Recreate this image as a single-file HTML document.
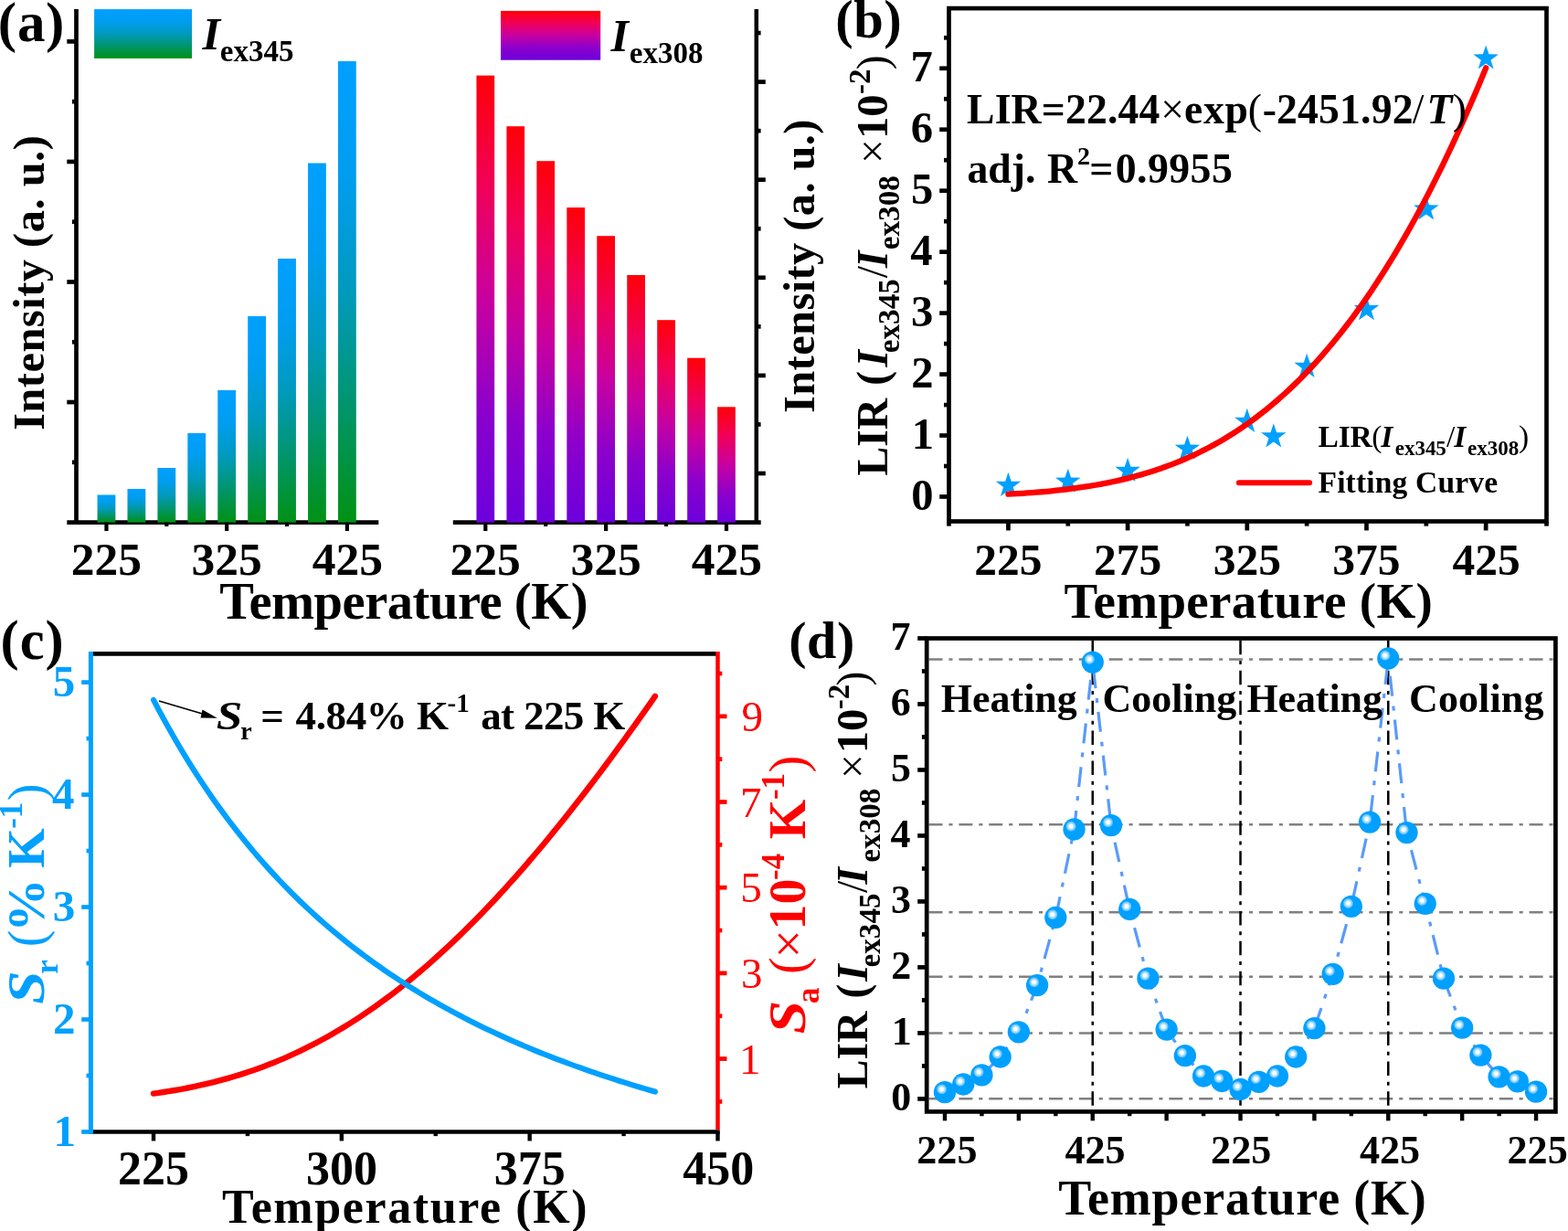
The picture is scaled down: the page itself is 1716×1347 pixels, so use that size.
<!DOCTYPE html>
<html><head><meta charset="utf-8"><title>Figure</title>
<style>html,body{margin:0;padding:0;background:#fff;overflow:hidden;width:1716px;height:1347px;}svg{display:block;}</style>
</head><body>
<svg width="1716" height="1347" viewBox="0 0 1716 1347" font-family='"Liberation Serif", serif'>
<defs><linearGradient id="gBG" x1="0" y1="0" x2="0" y2="1"><stop offset="0" stop-color="#00a0ff"/><stop offset="0.25" stop-color="#009df0"/><stop offset="0.5" stop-color="#009abd"/><stop offset="0.75" stop-color="#00956b"/><stop offset="1" stop-color="#009114"/></linearGradient><linearGradient id="gRP" x1="0" y1="0" x2="0" y2="1"><stop offset="0" stop-color="#ff0008"/><stop offset="0.25" stop-color="#f00058"/><stop offset="0.5" stop-color="#c800a0"/><stop offset="0.75" stop-color="#8c00cc"/><stop offset="1" stop-color="#6c00dc"/></linearGradient><radialGradient id="gHL" cx="0.5" cy="0.5" r="0.5"><stop offset="0" stop-color="#ffffff"/><stop offset="0.28" stop-color="#ffffff"/><stop offset="0.45" stop-color="#c8ecff"/><stop offset="0.62" stop-color="#9bd8ff"/><stop offset="0.8" stop-color="#6cc6ff"/><stop offset="1" stop-color="#00a0ff"/></radialGradient></defs>
<rect width="1716" height="1347" fill="#fff"/>
<line x1="83.50" y1="10.10" x2="83.50" y2="573.95" stroke="#000" stroke-width="4.7"/>
<line x1="73.30" y1="571.60" x2="414.30" y2="571.60" stroke="#000" stroke-width="4.7"/>
<line x1="73.30" y1="440.05" x2="83.50" y2="440.05" stroke="#000" stroke-width="4.7"/>
<line x1="73.30" y1="308.50" x2="83.50" y2="308.50" stroke="#000" stroke-width="4.7"/>
<line x1="73.30" y1="176.95" x2="83.50" y2="176.95" stroke="#000" stroke-width="4.7"/>
<line x1="73.30" y1="45.40" x2="83.50" y2="45.40" stroke="#000" stroke-width="4.7"/>
<line x1="78.90" y1="505.83" x2="83.50" y2="505.83" stroke="#000" stroke-width="4.7"/>
<line x1="78.90" y1="374.27" x2="83.50" y2="374.27" stroke="#000" stroke-width="4.7"/>
<line x1="78.90" y1="242.73" x2="83.50" y2="242.73" stroke="#000" stroke-width="4.7"/>
<line x1="78.90" y1="111.17" x2="83.50" y2="111.17" stroke="#000" stroke-width="4.7"/>
<rect x="106.55" y="541.50" width="19.80" height="30.10" fill="url(#gBG)"/>
<rect x="139.48" y="535.00" width="19.80" height="36.60" fill="url(#gBG)"/>
<rect x="172.41" y="512.00" width="19.80" height="59.60" fill="url(#gBG)"/>
<rect x="205.34" y="474.00" width="19.80" height="97.60" fill="url(#gBG)"/>
<rect x="238.27" y="427.00" width="19.80" height="144.60" fill="url(#gBG)"/>
<rect x="271.20" y="346.00" width="19.80" height="225.60" fill="url(#gBG)"/>
<rect x="304.13" y="283.00" width="19.80" height="288.60" fill="url(#gBG)"/>
<rect x="337.06" y="178.50" width="19.80" height="393.10" fill="url(#gBG)"/>
<rect x="369.99" y="67.00" width="19.80" height="504.60" fill="url(#gBG)"/>
<line x1="116.45" y1="571.60" x2="116.45" y2="581.00" stroke="#000" stroke-width="4.2"/>
<line x1="182.31" y1="571.60" x2="182.31" y2="576.00" stroke="#000" stroke-width="4.2"/>
<line x1="248.17" y1="571.60" x2="248.17" y2="581.00" stroke="#000" stroke-width="4.2"/>
<line x1="314.03" y1="571.60" x2="314.03" y2="576.00" stroke="#000" stroke-width="4.2"/>
<line x1="379.89" y1="571.60" x2="379.89" y2="581.00" stroke="#000" stroke-width="4.2"/>
<text x="77.70" y="628.70" font-size="51.50" font-weight="bold">225</text>
<text x="209.55" y="628.70" font-size="51.50" font-weight="bold">325</text>
<text x="341.78" y="628.70" font-size="51.50" font-weight="bold">425</text>
<rect x="103.10" y="10.10" width="106.90" height="53.80" fill="url(#gBG)"/>
<text x="221.40" y="53.60" font-size="50.00" font-weight="bold" font-style="italic">I</text>
<text x="240.75" y="67.10" font-size="33.00" font-weight="bold">ex345</text>
<line x1="827.80" y1="10.10" x2="827.80" y2="573.95" stroke="#000" stroke-width="4.5"/>
<line x1="495.80" y1="571.60" x2="832.70" y2="571.60" stroke="#000" stroke-width="4.7"/>
<line x1="827.80" y1="518.00" x2="837.80" y2="518.00" stroke="#000" stroke-width="4.7"/>
<line x1="827.80" y1="464.45" x2="832.60" y2="464.45" stroke="#000" stroke-width="4.7"/>
<line x1="827.80" y1="410.90" x2="837.80" y2="410.90" stroke="#000" stroke-width="4.7"/>
<line x1="827.80" y1="357.35" x2="832.60" y2="357.35" stroke="#000" stroke-width="4.7"/>
<line x1="827.80" y1="303.80" x2="837.80" y2="303.80" stroke="#000" stroke-width="4.7"/>
<line x1="827.80" y1="250.25" x2="832.60" y2="250.25" stroke="#000" stroke-width="4.7"/>
<line x1="827.80" y1="196.70" x2="837.80" y2="196.70" stroke="#000" stroke-width="4.7"/>
<line x1="827.80" y1="143.15" x2="832.60" y2="143.15" stroke="#000" stroke-width="4.7"/>
<line x1="827.80" y1="89.60" x2="837.80" y2="89.60" stroke="#000" stroke-width="4.7"/>
<line x1="827.80" y1="36.05" x2="832.60" y2="36.05" stroke="#000" stroke-width="4.7"/>
<rect x="521.45" y="82.60" width="19.70" height="489.00" fill="url(#gRP)"/>
<rect x="554.41" y="138.20" width="19.70" height="433.40" fill="url(#gRP)"/>
<rect x="587.37" y="176.20" width="19.70" height="395.40" fill="url(#gRP)"/>
<rect x="620.33" y="227.10" width="19.70" height="344.50" fill="url(#gRP)"/>
<rect x="653.29" y="258.20" width="19.70" height="313.40" fill="url(#gRP)"/>
<rect x="686.25" y="301.00" width="19.70" height="270.60" fill="url(#gRP)"/>
<rect x="719.21" y="350.20" width="19.70" height="221.40" fill="url(#gRP)"/>
<rect x="752.17" y="391.70" width="19.70" height="179.90" fill="url(#gRP)"/>
<rect x="785.13" y="445.30" width="19.70" height="126.30" fill="url(#gRP)"/>
<line x1="531.30" y1="571.60" x2="531.30" y2="581.00" stroke="#000" stroke-width="4.2"/>
<line x1="597.22" y1="571.60" x2="597.22" y2="576.00" stroke="#000" stroke-width="4.2"/>
<line x1="663.14" y1="571.60" x2="663.14" y2="581.00" stroke="#000" stroke-width="4.2"/>
<line x1="729.06" y1="571.60" x2="729.06" y2="576.00" stroke="#000" stroke-width="4.2"/>
<line x1="794.98" y1="571.60" x2="794.98" y2="581.00" stroke="#000" stroke-width="4.2"/>
<text x="492.55" y="628.70" font-size="51.50" font-weight="bold">225</text>
<text x="624.51" y="628.70" font-size="51.50" font-weight="bold">325</text>
<text x="756.87" y="628.70" font-size="51.50" font-weight="bold">425</text>
<rect x="548.00" y="11.90" width="109.20" height="53.80" fill="url(#gRP)"/>
<text x="668.50" y="55.90" font-size="50.00" font-weight="bold" font-style="italic">I</text>
<text x="688.75" y="68.50" font-size="33.00" font-weight="bold">ex308</text>
<text x="240.35" y="676.90" font-size="56.50" font-weight="bold" textLength="403.11" lengthAdjust="spacing">Temperature (K)</text>
<text x="-2.15" y="45.20" font-size="61.00" font-weight="bold" textLength="72.55" lengthAdjust="spacing">(a)</text>
<g transform="translate(48.2,469.3) rotate(-90)">
<text x="-1.70" y="0.00" font-size="48.50" font-weight="bold" textLength="322.87" lengthAdjust="spacing">Intensity (a. u.)</text>
</g>
<g transform="translate(890.7,450.3) rotate(-90)">
<text x="-1.70" y="0.00" font-size="48.50" font-weight="bold" textLength="321.47" lengthAdjust="spacing">Intensity (a. u.)</text>
</g>
<rect x="1038.5" y="9.1" width="654.0" height="561.4" fill="none" stroke="#000" stroke-width="4.7"/>
<line x1="1028.20" y1="543.50" x2="1038.50" y2="543.50" stroke="#000" stroke-width="4.7"/>
<line x1="1033.00" y1="510.02" x2="1038.50" y2="510.02" stroke="#000" stroke-width="4.7"/>
<text x="997.34" y="558.00" font-size="48.60" font-weight="bold">0</text>
<line x1="1028.20" y1="476.54" x2="1038.50" y2="476.54" stroke="#000" stroke-width="4.7"/>
<line x1="1033.00" y1="443.06" x2="1038.50" y2="443.06" stroke="#000" stroke-width="4.7"/>
<text x="997.83" y="491.04" font-size="48.60" font-weight="bold">1</text>
<line x1="1028.20" y1="409.58" x2="1038.50" y2="409.58" stroke="#000" stroke-width="4.7"/>
<line x1="1033.00" y1="376.10" x2="1038.50" y2="376.10" stroke="#000" stroke-width="4.7"/>
<text x="997.34" y="424.08" font-size="48.60" font-weight="bold">2</text>
<line x1="1028.20" y1="342.62" x2="1038.50" y2="342.62" stroke="#000" stroke-width="4.7"/>
<line x1="1033.00" y1="309.14" x2="1038.50" y2="309.14" stroke="#000" stroke-width="4.7"/>
<text x="997.10" y="357.12" font-size="48.60" font-weight="bold">3</text>
<line x1="1028.20" y1="275.66" x2="1038.50" y2="275.66" stroke="#000" stroke-width="4.7"/>
<line x1="1033.00" y1="242.18" x2="1038.50" y2="242.18" stroke="#000" stroke-width="4.7"/>
<text x="996.37" y="290.16" font-size="48.60" font-weight="bold">4</text>
<line x1="1028.20" y1="208.70" x2="1038.50" y2="208.70" stroke="#000" stroke-width="4.7"/>
<line x1="1033.00" y1="175.22" x2="1038.50" y2="175.22" stroke="#000" stroke-width="4.7"/>
<text x="997.10" y="223.20" font-size="48.60" font-weight="bold">5</text>
<line x1="1028.20" y1="141.74" x2="1038.50" y2="141.74" stroke="#000" stroke-width="4.7"/>
<line x1="1033.00" y1="108.26" x2="1038.50" y2="108.26" stroke="#000" stroke-width="4.7"/>
<text x="996.86" y="156.24" font-size="48.60" font-weight="bold">6</text>
<line x1="1028.20" y1="74.78" x2="1038.50" y2="74.78" stroke="#000" stroke-width="4.7"/>
<line x1="1033.00" y1="41.30" x2="1038.50" y2="41.30" stroke="#000" stroke-width="4.7"/>
<text x="996.62" y="89.28" font-size="48.60" font-weight="bold">7</text>
<line x1="1038.50" y1="570.50" x2="1038.50" y2="575.65" stroke="#000" stroke-width="4.7"/>
<line x1="1103.45" y1="570.50" x2="1103.45" y2="580.45" stroke="#000" stroke-width="4.7"/>
<text x="1066.20" y="628.50" font-size="49.50" font-weight="bold">225</text>
<line x1="1168.79" y1="570.50" x2="1168.79" y2="575.65" stroke="#000" stroke-width="4.7"/>
<line x1="1234.12" y1="570.50" x2="1234.12" y2="580.45" stroke="#000" stroke-width="4.7"/>
<text x="1196.88" y="628.50" font-size="49.50" font-weight="bold">275</text>
<line x1="1299.46" y1="570.50" x2="1299.46" y2="575.65" stroke="#000" stroke-width="4.7"/>
<line x1="1364.80" y1="570.50" x2="1364.80" y2="580.45" stroke="#000" stroke-width="4.7"/>
<text x="1327.68" y="628.50" font-size="49.50" font-weight="bold">325</text>
<line x1="1430.14" y1="570.50" x2="1430.14" y2="575.65" stroke="#000" stroke-width="4.7"/>
<line x1="1495.48" y1="570.50" x2="1495.48" y2="580.45" stroke="#000" stroke-width="4.7"/>
<text x="1458.35" y="628.50" font-size="49.50" font-weight="bold">375</text>
<line x1="1560.81" y1="570.50" x2="1560.81" y2="575.65" stroke="#000" stroke-width="4.7"/>
<line x1="1626.15" y1="570.50" x2="1626.15" y2="580.45" stroke="#000" stroke-width="4.7"/>
<text x="1589.52" y="628.50" font-size="49.50" font-weight="bold">425</text>
<line x1="1692.50" y1="570.50" x2="1692.50" y2="575.65" stroke="#000" stroke-width="4.7"/>
<polygon points="1103.45,516.85 1106.76,526.74 1117.19,526.83 1108.81,533.04 1111.94,542.99 1103.45,536.94 1094.96,542.99 1098.09,533.04 1089.71,526.83 1100.14,526.74" fill="#00a0ff"/>
<polygon points="1168.79,512.65 1172.10,522.54 1182.53,522.63 1174.15,528.84 1177.28,538.79 1168.79,532.74 1160.29,538.79 1163.43,528.84 1155.04,522.63 1165.48,522.54" fill="#00a0ff"/>
<polygon points="1234.12,500.75 1237.44,510.64 1247.87,510.73 1239.48,516.94 1242.62,526.89 1234.12,520.84 1225.63,526.89 1228.77,516.94 1220.38,510.73 1230.81,510.64" fill="#00a0ff"/>
<polygon points="1299.46,476.65 1302.77,486.54 1313.21,486.63 1304.82,492.84 1307.96,502.79 1299.46,496.74 1290.97,502.79 1294.10,492.84 1285.72,486.63 1296.15,486.54" fill="#00a0ff"/>
<polygon points="1364.80,446.85 1368.11,456.74 1378.54,456.83 1370.16,463.04 1373.29,472.99 1364.80,466.94 1356.31,472.99 1359.44,463.04 1351.06,456.83 1361.49,456.74" fill="#00a0ff"/>
<polygon points="1430.14,386.85 1433.45,396.74 1443.88,396.83 1435.50,403.04 1438.63,412.99 1430.14,406.94 1421.64,412.99 1424.78,403.04 1416.39,396.83 1426.83,396.74" fill="#00a0ff"/>
<polygon points="1495.48,324.05 1498.79,333.94 1509.22,334.03 1500.83,340.24 1503.97,350.19 1495.48,344.14 1486.98,350.19 1490.12,340.24 1481.73,334.03 1492.16,333.94" fill="#00a0ff"/>
<polygon points="1560.81,214.45 1564.12,224.34 1574.56,224.43 1566.17,230.64 1569.31,240.59 1560.81,234.54 1552.32,240.59 1555.45,230.64 1547.07,224.43 1557.50,224.34" fill="#00a0ff"/>
<polygon points="1626.15,49.45 1629.46,59.34 1639.89,59.43 1631.51,65.64 1634.64,75.59 1626.15,69.54 1617.66,75.59 1620.79,65.64 1612.41,59.43 1622.84,59.34" fill="#00a0ff"/>
<polyline points="1103.45,540.72 1108.68,540.44 1113.90,540.14 1119.13,539.81 1124.36,539.46 1129.59,539.08 1134.81,538.67 1140.04,538.24 1145.27,537.77 1150.49,537.27 1155.72,536.73 1160.95,536.16 1166.17,535.55 1171.40,534.90 1176.63,534.21 1181.86,533.48 1187.08,532.70 1192.31,531.87 1197.54,531.00 1202.76,530.07 1207.99,529.09 1213.22,528.06 1218.44,526.97 1223.67,525.82 1228.90,524.61 1234.12,523.33 1239.35,521.99 1244.58,520.58 1249.81,519.10 1255.03,517.55 1260.26,515.93 1265.49,514.22 1270.71,512.44 1275.94,510.57 1281.17,508.62 1286.39,506.59 1291.62,504.46 1296.85,502.25 1302.08,499.94 1307.30,497.53 1312.53,495.03 1317.76,492.42 1322.98,489.71 1328.21,486.89 1333.44,483.97 1338.66,480.93 1343.89,477.78 1349.12,474.52 1354.35,471.13 1359.57,467.63 1364.80,464.00 1370.03,460.25 1375.25,456.36 1380.48,452.35 1385.71,448.20 1390.93,443.92 1396.16,439.50 1401.39,434.94 1406.62,430.24 1411.84,425.39 1417.07,420.39 1422.30,415.24 1427.52,409.94 1432.75,404.48 1437.98,398.87 1443.20,393.10 1448.43,387.17 1453.66,381.07 1458.89,374.81 1464.11,368.37 1469.34,361.77 1474.57,354.99 1479.79,348.04 1485.02,340.91 1490.25,333.61 1495.48,326.12 1500.70,318.45 1505.93,310.59 1511.16,302.54 1516.38,294.31 1521.61,285.88 1526.84,277.26 1532.06,268.44 1537.29,259.43 1542.52,250.22 1547.75,240.81 1552.97,231.19 1558.20,221.37 1563.43,211.35 1568.65,201.11 1573.88,190.67 1579.11,180.02 1584.33,169.15 1589.56,158.07 1594.79,146.77 1600.02,135.25 1605.24,123.52 1610.47,111.57 1615.70,99.39 1620.92,86.99 1626.15,74.37" fill="none" stroke="#ff0000" stroke-width="6.3" stroke-linecap="round" stroke-linejoin="round"/>
<polygon points="1393.80,463.35 1397.11,473.24 1407.54,473.33 1399.16,479.54 1402.29,489.49 1393.80,483.44 1385.31,489.49 1388.44,479.54 1380.06,473.33 1390.49,473.24" fill="#00a0ff"/>
<line x1="1355.90" y1="528.30" x2="1433.10" y2="528.30" stroke="#ff0000" stroke-width="6" stroke-linecap="round"/>
<text x="1442.50" y="539.20" font-size="33.50" font-weight="bold" textLength="196.53" lengthAdjust="spacing">Fitting Curve</text>
<text x="1442.50" y="489.20" font-size="33.50" font-weight="bold" textLength="59.28" lengthAdjust="spacing">LIR</text>
<text x="1501.19" y="489.20" font-size="33.50">(</text>
<text x="1511.13" y="489.20" font-size="33.50" font-weight="bold" font-style="italic">I</text>
<text x="1526.69" y="498.00" font-size="23.00" font-weight="bold" textLength="56.18" lengthAdjust="spacing">ex345</text>
<text x="1582.90" y="489.20" font-size="33.50">/</text>
<text x="1591.24" y="489.20" font-size="33.50" font-weight="bold" font-style="italic">I</text>
<text x="1606.10" y="498.00" font-size="23.00" font-weight="bold" textLength="56.18" lengthAdjust="spacing">ex308</text>
<text x="1661.99" y="489.20" font-size="33.50">)</text>
<text x="1058.01" y="134.60" font-size="45.70" font-weight="bold" textLength="211.32" lengthAdjust="spacing">LIR=22.44</text>
<text x="1270.14" y="134.60" font-size="45.70">×</text>
<text x="1296.10" y="134.60" font-size="45.70" font-weight="bold" textLength="69.73" lengthAdjust="spacing">exp</text>
<text x="1365.84" y="134.60" font-size="45.70">(</text>
<text x="1381.70" y="134.60" font-size="45.70" font-weight="bold" textLength="164.84" lengthAdjust="spacing">-2451.92</text>
<text x="1545.80" y="134.60" font-size="45.70">/</text>
<text x="1561.57" y="134.60" font-size="45.70" font-weight="bold" font-style="italic" textLength="26.87" lengthAdjust="spacing">T</text>
<text x="1589.63" y="134.60" font-size="45.70">)</text>
<text x="1058.53" y="200.20" font-size="45.80" font-weight="bold" textLength="74.80" lengthAdjust="spacing">adj.</text>
<text x="1146.01" y="200.20" font-size="45.80" font-weight="bold">R</text>
<text x="1178.98" y="180.30" font-size="28.00" font-weight="bold">2</text>
<text x="1192.21" y="200.20" font-size="45.80" font-weight="bold" textLength="30.10" lengthAdjust="spacing">=</text>
<text x="1220.67" y="200.20" font-size="45.80" font-weight="bold" textLength="128.14" lengthAdjust="spacing">0.9955</text>
<text x="914.27" y="40.80" font-size="58.50" font-weight="bold" textLength="72.51" lengthAdjust="spacing">(b)</text>
<text x="1164.58" y="675.90" font-size="55.00" font-weight="bold" textLength="403.23" lengthAdjust="spacing">Temperature (K)</text>
<g transform="translate(971,519.8) rotate(-90)">
<text x="-0.71" y="0.00" font-size="47.50" font-weight="bold">LIR</text>
<text x="97.96" y="0.00" font-size="47.50" font-weight="bold">(</text>
<text x="118.27" y="0.00" font-size="47.50" font-weight="bold" font-style="italic">I</text>
<text x="133.54" y="13.40" font-size="33.20" font-weight="bold">ex345</text>
<text x="215.60" y="0.00" font-size="47.50">/</text>
<text x="226.78" y="0.00" font-size="47.50" font-weight="bold" font-style="italic">I</text>
<text x="246.54" y="13.40" font-size="33.20" font-weight="bold">ex308</text>
<text x="340.90" y="0.00" font-size="47.50">×</text>
<text x="367.92" y="0.00" font-size="48.50" font-weight="bold">10</text>
<text x="416.75" y="-19.50" font-size="33.00" font-weight="bold">-2</text>
<text x="443.57" y="0.00" font-size="47.50">)</text>
</g>
<line x1="99.40" y1="715.30" x2="785.50" y2="715.30" stroke="#000" stroke-width="4.7"/>
<line x1="96.90" y1="1238.50" x2="787.70" y2="1238.50" stroke="#000" stroke-width="4.7"/>
<line x1="99.40" y1="713.00" x2="99.40" y2="1240.80" stroke="#00a0ff" stroke-width="5"/>
<line x1="785.50" y1="713.00" x2="785.50" y2="1236.20" stroke="#ff0000" stroke-width="4.5"/>
<line x1="89.20" y1="1238.50" x2="99.40" y2="1238.50" stroke="#00a0ff" stroke-width="4.7"/>
<text x="58.55" y="1254.00" font-size="49.00" font-weight="bold" fill="#00a0ff">1</text>
<line x1="89.20" y1="1115.52" x2="99.40" y2="1115.52" stroke="#00a0ff" stroke-width="4.7"/>
<text x="58.06" y="1131.02" font-size="49.00" font-weight="bold" fill="#00a0ff">2</text>
<line x1="89.20" y1="992.54" x2="99.40" y2="992.54" stroke="#00a0ff" stroke-width="4.7"/>
<text x="57.81" y="1008.04" font-size="49.00" font-weight="bold" fill="#00a0ff">3</text>
<line x1="89.20" y1="869.56" x2="99.40" y2="869.56" stroke="#00a0ff" stroke-width="4.7"/>
<text x="57.08" y="885.06" font-size="49.00" font-weight="bold" fill="#00a0ff">4</text>
<line x1="89.20" y1="746.58" x2="99.40" y2="746.58" stroke="#00a0ff" stroke-width="4.7"/>
<text x="57.81" y="762.08" font-size="49.00" font-weight="bold" fill="#00a0ff">5</text>
<line x1="94.50" y1="1177.01" x2="99.40" y2="1177.01" stroke="#00a0ff" stroke-width="4.7"/>
<line x1="94.50" y1="1054.03" x2="99.40" y2="1054.03" stroke="#00a0ff" stroke-width="4.7"/>
<line x1="94.50" y1="931.05" x2="99.40" y2="931.05" stroke="#00a0ff" stroke-width="4.7"/>
<line x1="94.50" y1="808.07" x2="99.40" y2="808.07" stroke="#00a0ff" stroke-width="4.7"/>
<line x1="785.50" y1="1205.40" x2="790.30" y2="1205.40" stroke="#ff0000" stroke-width="4.7"/>
<line x1="785.50" y1="1158.56" x2="795.50" y2="1158.56" stroke="#ff0000" stroke-width="4.7"/>
<text x="809.00" y="1174.56" font-size="47.00" fill="#ff0000">1</text>
<line x1="785.50" y1="1111.72" x2="790.30" y2="1111.72" stroke="#ff0000" stroke-width="4.7"/>
<line x1="785.50" y1="1064.88" x2="795.50" y2="1064.88" stroke="#ff0000" stroke-width="4.7"/>
<text x="810.88" y="1080.88" font-size="47.00" fill="#ff0000">3</text>
<line x1="785.50" y1="1018.04" x2="790.30" y2="1018.04" stroke="#ff0000" stroke-width="4.7"/>
<line x1="785.50" y1="971.20" x2="795.50" y2="971.20" stroke="#ff0000" stroke-width="4.7"/>
<text x="810.18" y="987.20" font-size="47.00" fill="#ff0000">5</text>
<line x1="785.50" y1="924.36" x2="790.30" y2="924.36" stroke="#ff0000" stroke-width="4.7"/>
<line x1="785.50" y1="877.52" x2="795.50" y2="877.52" stroke="#ff0000" stroke-width="4.7"/>
<text x="809.95" y="893.52" font-size="47.00" fill="#ff0000">7</text>
<line x1="785.50" y1="830.68" x2="790.30" y2="830.68" stroke="#ff0000" stroke-width="4.7"/>
<line x1="785.50" y1="783.84" x2="795.50" y2="783.84" stroke="#ff0000" stroke-width="4.7"/>
<text x="811.59" y="799.84" font-size="47.00" fill="#ff0000">9</text>
<line x1="785.50" y1="737.00" x2="790.30" y2="737.00" stroke="#ff0000" stroke-width="4.7"/>
<line x1="168.01" y1="1238.50" x2="168.01" y2="1248.45" stroke="#000" stroke-width="4.4"/>
<text x="128.88" y="1296.10" font-size="52.00" font-weight="bold">225</text>
<line x1="270.93" y1="1238.50" x2="270.93" y2="1243.15" stroke="#000" stroke-width="4.4"/>
<line x1="373.84" y1="1238.50" x2="373.84" y2="1248.45" stroke="#000" stroke-width="4.4"/>
<text x="334.97" y="1296.10" font-size="52.00" font-weight="bold">300</text>
<line x1="476.75" y1="1238.50" x2="476.75" y2="1243.15" stroke="#000" stroke-width="4.4"/>
<line x1="579.67" y1="1238.50" x2="579.67" y2="1248.45" stroke="#000" stroke-width="4.4"/>
<text x="540.67" y="1296.10" font-size="52.00" font-weight="bold">375</text>
<line x1="682.58" y1="1238.50" x2="682.58" y2="1243.15" stroke="#000" stroke-width="4.4"/>
<line x1="785.50" y1="1238.50" x2="785.50" y2="1248.45" stroke="#000" stroke-width="4.4"/>
<text x="747.15" y="1296.10" font-size="52.00" font-weight="bold">450</text>
<polyline points="168.01,1196.61 173.50,1195.84 178.99,1195.03 184.48,1194.18 189.97,1193.27 195.45,1192.31 200.94,1191.30 206.43,1190.24 211.92,1189.13 217.41,1187.95 222.90,1186.72 228.39,1185.43 233.88,1184.08 239.36,1182.67 244.85,1181.19 250.34,1179.65 255.83,1178.04 261.32,1176.37 266.81,1174.63 272.30,1172.81 277.79,1170.93 283.27,1168.97 288.76,1166.94 294.25,1164.84 299.74,1162.66 305.23,1160.41 310.72,1158.08 316.21,1155.67 321.70,1153.18 327.19,1150.61 332.67,1147.96 338.16,1145.23 343.65,1142.42 349.14,1139.52 354.63,1136.55 360.12,1133.48 365.61,1130.34 371.10,1127.11 376.58,1123.80 382.07,1120.40 387.56,1116.91 393.05,1113.34 398.54,1109.68 404.03,1105.94 409.52,1102.11 415.01,1098.20 420.49,1094.19 425.98,1090.10 431.47,1085.93 436.96,1081.67 442.45,1077.32 447.94,1072.89 453.43,1068.37 458.92,1063.76 464.41,1059.07 469.89,1054.30 475.38,1049.44 480.87,1044.49 486.36,1039.47 491.85,1034.36 497.34,1029.16 502.83,1023.88 508.32,1018.53 513.80,1013.09 519.29,1007.57 524.78,1001.97 530.27,996.29 535.76,990.53 541.25,984.69 546.74,978.78 552.23,972.79 557.71,966.72 563.20,960.58 568.69,954.36 574.18,948.07 579.67,941.71 585.16,935.28 590.65,928.78 596.14,922.20 601.63,915.56 607.11,908.85 612.60,902.07 618.09,895.23 623.58,888.32 629.07,881.35 634.56,874.32 640.05,867.22 645.54,860.06 651.02,852.85 656.51,845.57 662.00,838.23 667.49,830.84 672.98,823.40 678.47,815.90 683.96,808.34 689.45,800.73 694.93,793.08 700.42,785.37 705.91,777.61 711.40,769.80 716.89,761.95" fill="none" stroke="#ff0000" stroke-width="6.4" stroke-linecap="round" stroke-linejoin="round"/>
<polyline points="168.01,765.85 173.50,776.30 178.99,786.48 184.48,796.39 189.97,806.05 195.45,815.46 200.94,824.64 206.43,833.59 211.92,842.31 217.41,850.82 222.90,859.13 228.39,867.23 233.88,875.14 239.36,882.86 244.85,890.39 250.34,897.76 255.83,904.94 261.32,911.97 266.81,918.83 272.30,925.54 277.79,932.09 283.27,938.50 288.76,944.77 294.25,950.90 299.74,956.89 305.23,962.75 310.72,968.49 316.21,974.10 321.70,979.60 327.19,984.98 332.67,990.24 338.16,995.40 343.65,1000.45 349.14,1005.39 354.63,1010.24 360.12,1014.99 365.61,1019.64 371.10,1024.19 376.58,1028.66 382.07,1033.04 387.56,1037.33 393.05,1041.54 398.54,1045.67 404.03,1049.72 409.52,1053.69 415.01,1057.59 420.49,1061.41 425.98,1065.16 431.47,1068.84 436.96,1072.45 442.45,1076.00 447.94,1079.48 453.43,1082.90 458.92,1086.26 464.41,1089.55 469.89,1092.79 475.38,1095.97 480.87,1099.09 486.36,1102.16 491.85,1105.18 497.34,1108.14 502.83,1111.05 508.32,1113.91 513.80,1116.73 519.29,1119.49 524.78,1122.21 530.27,1124.89 535.76,1127.51 541.25,1130.10 546.74,1132.64 552.23,1135.14 557.71,1137.60 563.20,1140.02 568.69,1142.40 574.18,1144.75 579.67,1147.05 585.16,1149.32 590.65,1151.56 596.14,1153.75 601.63,1155.92 607.11,1158.05 612.60,1160.15 618.09,1162.21 623.58,1164.24 629.07,1166.25 634.56,1168.22 640.05,1170.16 645.54,1172.07 651.02,1173.96 656.51,1175.81 662.00,1177.64 667.49,1179.45 672.98,1181.22 678.47,1182.97 683.96,1184.70 689.45,1186.40 694.93,1188.07 700.42,1189.72 705.91,1191.35 711.40,1192.96 716.89,1194.54" fill="none" stroke="#00a0ff" stroke-width="6.1" stroke-linecap="round" stroke-linejoin="round"/>
<line x1="174.00" y1="767.10" x2="224.00" y2="781.80" stroke="#000" stroke-width="1.6"/>
<polygon points="237.8,785.8 221.5,776.5 219.5,785.5" fill="#000"/>
<g transform="translate(237.8,797.6) scale(1.14,1)">
<text x="-0.90" y="0.00" font-size="45.00" font-weight="bold" font-style="italic">S</text>
</g>
<text x="263.30" y="809.40" font-size="28.00" font-weight="bold">r</text>
<text x="285.35" y="797.50" font-size="45.00" font-weight="bold" textLength="28.32" lengthAdjust="spacing">=</text>
<text x="323.62" y="797.50" font-size="45.00" font-weight="bold" textLength="122.15" lengthAdjust="spacing">4.84%</text>
<text x="456.02" y="797.50" font-size="45.00" font-weight="bold">K</text>
<text x="489.59" y="779.10" font-size="29.00" font-weight="bold">-1</text>
<text x="526.15" y="797.50" font-size="45.00" font-weight="bold" textLength="158.21" lengthAdjust="spacing">at 225 K</text>
<text x="243.12" y="1337.50" font-size="52.00" font-weight="bold" textLength="399.45" lengthAdjust="spacing">Temperature (K)</text>
<text x="0.48" y="721.30" font-size="60.50" font-weight="bold" textLength="69.24" lengthAdjust="spacing">(c)</text>
<g transform="translate(48,1097.7) rotate(-90)">
<g transform="translate(0,0) scale(1.18,1)">
<text x="-1.12" y="0.00" font-size="56.00" font-weight="bold" font-style="italic" fill="#00a0ff">S</text>
</g>
<text x="31.83" y="14.80" font-size="35.00" font-weight="bold" fill="#00a0ff">r</text>
<text x="61.48" y="0.00" font-size="56.00" fill="#00a0ff">(</text>
<g transform="translate(83.8,0) scale(1.04,1)">
<text x="-5.60" y="0.00" font-size="56.00" font-weight="bold" fill="#00a0ff">%</text>
</g>
<text x="147.96" y="0.00" font-size="56.00" font-weight="bold" fill="#00a0ff">K</text>
<text x="190.88" y="-23.60" font-size="35.00" font-weight="bold" fill="#00a0ff">-1</text>
<text x="221.52" y="0.00" font-size="56.00" fill="#00a0ff">)</text>
</g>
<g transform="translate(881.1,1130.2) rotate(-90)">
<g transform="translate(0,0) scale(1.18,1)">
<text x="-1.12" y="0.00" font-size="56.00" font-weight="bold" font-style="italic" fill="#ff0000">S</text>
</g>
<text x="32.25" y="15.00" font-size="35.00" font-weight="bold" fill="#ff0000">a</text>
<text x="64.08" y="0.00" font-size="56.00" fill="#ff0000">(</text>
<text x="82.00" y="0.00" font-size="55.00" fill="#ff0000">×</text>
<text x="112.62" y="0.00" font-size="56.00" font-weight="bold" fill="#ff0000">10</text>
<text x="167.28" y="-22.90" font-size="35.00" font-weight="bold" fill="#ff0000">-4</text>
<text x="212.06" y="0.00" font-size="56.00" font-weight="bold" fill="#ff0000">K</text>
<text x="255.08" y="-23.00" font-size="35.00" font-weight="bold" fill="#ff0000">-1</text>
<text x="284.82" y="0.00" font-size="56.00" fill="#ff0000">)</text>
</g>
<line x1="1016.55" y1="721.60" x2="1700.05" y2="721.60" stroke="#808080" stroke-width="2.5" stroke-dasharray="15 6.9 4.1 6.85"/>
<line x1="1016.55" y1="902.20" x2="1700.05" y2="902.20" stroke="#808080" stroke-width="2.5" stroke-dasharray="15 6.9 4.1 6.85"/>
<line x1="1016.55" y1="998.30" x2="1700.05" y2="998.30" stroke="#808080" stroke-width="2.5" stroke-dasharray="15 6.9 4.1 6.85"/>
<line x1="1016.55" y1="1068.80" x2="1700.05" y2="1068.80" stroke="#808080" stroke-width="2.5" stroke-dasharray="15 6.9 4.1 6.85"/>
<line x1="1016.55" y1="1130.40" x2="1700.05" y2="1130.40" stroke="#808080" stroke-width="2.5" stroke-dasharray="15 6.9 4.1 6.85"/>
<line x1="1016.55" y1="1202.20" x2="1700.05" y2="1202.20" stroke="#808080" stroke-width="2.5" stroke-dasharray="15 6.9 4.1 6.85"/>
<line x1="1195.76" y1="700.85" x2="1195.76" y2="1214.05" stroke="#000" stroke-width="2.5" stroke-dasharray="15.5 6.7 4 6.7"/>
<line x1="1357.52" y1="700.85" x2="1357.52" y2="1214.05" stroke="#000" stroke-width="2.5" stroke-dasharray="15.5 6.7 4 6.7"/>
<line x1="1519.28" y1="700.85" x2="1519.28" y2="1214.05" stroke="#000" stroke-width="2.5" stroke-dasharray="15.5 6.7 4 6.7"/>
<rect x="1014.2" y="698.5" width="688.2" height="517.9000000000001" fill="none" stroke="#000" stroke-width="4.7"/>
<line x1="1004.20" y1="1202.40" x2="1014.20" y2="1202.40" stroke="#000" stroke-width="4.7"/>
<text x="975.26" y="1215.20" font-size="44.00" font-weight="bold">0</text>
<line x1="1004.20" y1="1130.41" x2="1014.20" y2="1130.41" stroke="#000" stroke-width="4.7"/>
<text x="975.70" y="1143.21" font-size="44.00" font-weight="bold">1</text>
<line x1="1004.20" y1="1058.42" x2="1014.20" y2="1058.42" stroke="#000" stroke-width="4.7"/>
<text x="975.26" y="1071.22" font-size="44.00" font-weight="bold">2</text>
<line x1="1004.20" y1="986.43" x2="1014.20" y2="986.43" stroke="#000" stroke-width="4.7"/>
<text x="975.04" y="999.23" font-size="44.00" font-weight="bold">3</text>
<line x1="1004.20" y1="914.44" x2="1014.20" y2="914.44" stroke="#000" stroke-width="4.7"/>
<text x="974.38" y="927.24" font-size="44.00" font-weight="bold">4</text>
<line x1="1004.20" y1="842.45" x2="1014.20" y2="842.45" stroke="#000" stroke-width="4.7"/>
<text x="975.04" y="855.25" font-size="44.00" font-weight="bold">5</text>
<line x1="1004.20" y1="770.46" x2="1014.20" y2="770.46" stroke="#000" stroke-width="4.7"/>
<text x="974.82" y="783.26" font-size="44.00" font-weight="bold">6</text>
<line x1="1004.20" y1="698.47" x2="1014.20" y2="698.47" stroke="#000" stroke-width="4.7"/>
<text x="974.60" y="711.27" font-size="44.00" font-weight="bold">7</text>
<line x1="1008.90" y1="1166.41" x2="1014.20" y2="1166.41" stroke="#000" stroke-width="4.7"/>
<line x1="1008.90" y1="1094.42" x2="1014.20" y2="1094.42" stroke="#000" stroke-width="4.7"/>
<line x1="1008.90" y1="1022.43" x2="1014.20" y2="1022.43" stroke="#000" stroke-width="4.7"/>
<line x1="1008.90" y1="950.44" x2="1014.20" y2="950.44" stroke="#000" stroke-width="4.7"/>
<line x1="1008.90" y1="878.45" x2="1014.20" y2="878.45" stroke="#000" stroke-width="4.7"/>
<line x1="1008.90" y1="806.46" x2="1014.20" y2="806.46" stroke="#000" stroke-width="4.7"/>
<line x1="1008.90" y1="734.47" x2="1014.20" y2="734.47" stroke="#000" stroke-width="4.7"/>
<line x1="1034.00" y1="1216.40" x2="1034.00" y2="1226.35" stroke="#000" stroke-width="4.4"/>
<text x="1003.24" y="1272.50" font-size="44.20" font-weight="bold">225</text>
<line x1="1074.44" y1="1216.40" x2="1074.44" y2="1221.25" stroke="#000" stroke-width="4.4"/>
<line x1="1114.88" y1="1216.40" x2="1114.88" y2="1226.35" stroke="#000" stroke-width="4.4"/>
<line x1="1155.32" y1="1216.40" x2="1155.32" y2="1221.25" stroke="#000" stroke-width="4.4"/>
<line x1="1195.76" y1="1216.40" x2="1195.76" y2="1226.35" stroke="#000" stroke-width="4.4"/>
<text x="1165.39" y="1272.50" font-size="44.20" font-weight="bold">425</text>
<line x1="1236.20" y1="1216.40" x2="1236.20" y2="1221.25" stroke="#000" stroke-width="4.4"/>
<line x1="1276.64" y1="1216.40" x2="1276.64" y2="1226.35" stroke="#000" stroke-width="4.4"/>
<line x1="1317.08" y1="1216.40" x2="1317.08" y2="1221.25" stroke="#000" stroke-width="4.4"/>
<line x1="1357.52" y1="1216.40" x2="1357.52" y2="1226.35" stroke="#000" stroke-width="4.4"/>
<text x="1325.04" y="1272.50" font-size="44.20" font-weight="bold">225</text>
<line x1="1397.96" y1="1216.40" x2="1397.96" y2="1221.25" stroke="#000" stroke-width="4.4"/>
<line x1="1438.40" y1="1216.40" x2="1438.40" y2="1226.35" stroke="#000" stroke-width="4.4"/>
<line x1="1478.84" y1="1216.40" x2="1478.84" y2="1221.25" stroke="#000" stroke-width="4.4"/>
<line x1="1519.28" y1="1216.40" x2="1519.28" y2="1226.35" stroke="#000" stroke-width="4.4"/>
<text x="1487.89" y="1272.50" font-size="44.20" font-weight="bold">425</text>
<line x1="1559.72" y1="1216.40" x2="1559.72" y2="1221.25" stroke="#000" stroke-width="4.4"/>
<line x1="1600.16" y1="1216.40" x2="1600.16" y2="1226.35" stroke="#000" stroke-width="4.4"/>
<line x1="1640.60" y1="1216.40" x2="1640.60" y2="1221.25" stroke="#000" stroke-width="4.4"/>
<line x1="1681.04" y1="1216.40" x2="1681.04" y2="1226.35" stroke="#000" stroke-width="4.4"/>
<text x="1649.44" y="1272.50" font-size="44.20" font-weight="bold">225</text>
<polyline points="1034.00,1195.20 1054.22,1186.50 1074.44,1176.40 1094.66,1156.50 1114.88,1129.30 1135.10,1078.10 1155.32,1004.00 1175.54,907.50 1195.76,724.60 1215.98,903.10 1236.20,995.00 1256.42,1070.70 1276.64,1126.60 1296.86,1155.20 1317.08,1177.50 1337.30,1183.00 1357.52,1192.00 1377.74,1183.80 1397.96,1177.50 1418.18,1156.50 1438.40,1125.20 1458.62,1065.80 1478.84,991.80 1499.06,899.60 1519.28,720.50 1539.50,911.10 1559.72,988.80 1579.94,1070.70 1600.16,1124.70 1620.38,1154.60 1640.60,1178.30 1660.82,1183.30 1681.04,1194.70" fill="none" stroke="#5a9bfa" stroke-width="3.2" stroke-dasharray="22 11 5 10"/>
<circle cx="1034.00" cy="1195.20" r="12.15" fill="#00a0ff"/>
<circle cx="1030.60" cy="1191.90" r="5.9" fill="url(#gHL)"/>
<circle cx="1054.22" cy="1186.50" r="12.15" fill="#00a0ff"/>
<circle cx="1050.82" cy="1183.20" r="5.9" fill="url(#gHL)"/>
<circle cx="1074.44" cy="1176.40" r="12.15" fill="#00a0ff"/>
<circle cx="1071.04" cy="1173.10" r="5.9" fill="url(#gHL)"/>
<circle cx="1094.66" cy="1156.50" r="12.15" fill="#00a0ff"/>
<circle cx="1091.26" cy="1153.20" r="5.9" fill="url(#gHL)"/>
<circle cx="1114.88" cy="1129.30" r="12.15" fill="#00a0ff"/>
<circle cx="1111.48" cy="1126.00" r="5.9" fill="url(#gHL)"/>
<circle cx="1135.10" cy="1078.10" r="12.15" fill="#00a0ff"/>
<circle cx="1131.70" cy="1074.80" r="5.9" fill="url(#gHL)"/>
<circle cx="1155.32" cy="1004.00" r="12.15" fill="#00a0ff"/>
<circle cx="1151.92" cy="1000.70" r="5.9" fill="url(#gHL)"/>
<circle cx="1175.54" cy="907.50" r="12.15" fill="#00a0ff"/>
<circle cx="1172.14" cy="904.20" r="5.9" fill="url(#gHL)"/>
<circle cx="1195.76" cy="724.60" r="12.15" fill="#00a0ff"/>
<circle cx="1192.36" cy="721.30" r="5.9" fill="url(#gHL)"/>
<circle cx="1215.98" cy="903.10" r="12.15" fill="#00a0ff"/>
<circle cx="1212.58" cy="899.80" r="5.9" fill="url(#gHL)"/>
<circle cx="1236.20" cy="995.00" r="12.15" fill="#00a0ff"/>
<circle cx="1232.80" cy="991.70" r="5.9" fill="url(#gHL)"/>
<circle cx="1256.42" cy="1070.70" r="12.15" fill="#00a0ff"/>
<circle cx="1253.02" cy="1067.40" r="5.9" fill="url(#gHL)"/>
<circle cx="1276.64" cy="1126.60" r="12.15" fill="#00a0ff"/>
<circle cx="1273.24" cy="1123.30" r="5.9" fill="url(#gHL)"/>
<circle cx="1296.86" cy="1155.20" r="12.15" fill="#00a0ff"/>
<circle cx="1293.46" cy="1151.90" r="5.9" fill="url(#gHL)"/>
<circle cx="1317.08" cy="1177.50" r="12.15" fill="#00a0ff"/>
<circle cx="1313.68" cy="1174.20" r="5.9" fill="url(#gHL)"/>
<circle cx="1337.30" cy="1183.00" r="12.15" fill="#00a0ff"/>
<circle cx="1333.90" cy="1179.70" r="5.9" fill="url(#gHL)"/>
<circle cx="1357.52" cy="1192.00" r="12.15" fill="#00a0ff"/>
<circle cx="1354.12" cy="1188.70" r="5.9" fill="url(#gHL)"/>
<circle cx="1377.74" cy="1183.80" r="12.15" fill="#00a0ff"/>
<circle cx="1374.34" cy="1180.50" r="5.9" fill="url(#gHL)"/>
<circle cx="1397.96" cy="1177.50" r="12.15" fill="#00a0ff"/>
<circle cx="1394.56" cy="1174.20" r="5.9" fill="url(#gHL)"/>
<circle cx="1418.18" cy="1156.50" r="12.15" fill="#00a0ff"/>
<circle cx="1414.78" cy="1153.20" r="5.9" fill="url(#gHL)"/>
<circle cx="1438.40" cy="1125.20" r="12.15" fill="#00a0ff"/>
<circle cx="1435.00" cy="1121.90" r="5.9" fill="url(#gHL)"/>
<circle cx="1458.62" cy="1065.80" r="12.15" fill="#00a0ff"/>
<circle cx="1455.22" cy="1062.50" r="5.9" fill="url(#gHL)"/>
<circle cx="1478.84" cy="991.80" r="12.15" fill="#00a0ff"/>
<circle cx="1475.44" cy="988.50" r="5.9" fill="url(#gHL)"/>
<circle cx="1499.06" cy="899.60" r="12.15" fill="#00a0ff"/>
<circle cx="1495.66" cy="896.30" r="5.9" fill="url(#gHL)"/>
<circle cx="1519.28" cy="720.50" r="12.15" fill="#00a0ff"/>
<circle cx="1515.88" cy="717.20" r="5.9" fill="url(#gHL)"/>
<circle cx="1539.50" cy="911.10" r="12.15" fill="#00a0ff"/>
<circle cx="1536.10" cy="907.80" r="5.9" fill="url(#gHL)"/>
<circle cx="1559.72" cy="988.80" r="12.15" fill="#00a0ff"/>
<circle cx="1556.32" cy="985.50" r="5.9" fill="url(#gHL)"/>
<circle cx="1579.94" cy="1070.70" r="12.15" fill="#00a0ff"/>
<circle cx="1576.54" cy="1067.40" r="5.9" fill="url(#gHL)"/>
<circle cx="1600.16" cy="1124.70" r="12.15" fill="#00a0ff"/>
<circle cx="1596.76" cy="1121.40" r="5.9" fill="url(#gHL)"/>
<circle cx="1620.38" cy="1154.60" r="12.15" fill="#00a0ff"/>
<circle cx="1616.98" cy="1151.30" r="5.9" fill="url(#gHL)"/>
<circle cx="1640.60" cy="1178.30" r="12.15" fill="#00a0ff"/>
<circle cx="1637.20" cy="1175.00" r="5.9" fill="url(#gHL)"/>
<circle cx="1660.82" cy="1183.30" r="12.15" fill="#00a0ff"/>
<circle cx="1657.42" cy="1180.00" r="5.9" fill="url(#gHL)"/>
<circle cx="1681.04" cy="1194.70" r="12.15" fill="#00a0ff"/>
<circle cx="1677.64" cy="1191.40" r="5.9" fill="url(#gHL)"/>
<text x="1029.74" y="778.80" font-size="44.00" font-weight="bold">Heating</text>
<text x="1206.50" y="778.80" font-size="44.00" font-weight="bold">Cooling</text>
<text x="1364.44" y="778.80" font-size="44.00" font-weight="bold" textLength="148.44" lengthAdjust="spacing">Heating</text>
<text x="1542.00" y="778.80" font-size="44.00" font-weight="bold" textLength="147.40" lengthAdjust="spacing">Cooling</text>
<text x="863.19" y="719.80" font-size="58.00" font-weight="bold" textLength="72.06" lengthAdjust="spacing">(d)</text>
<text x="1158.19" y="1328.60" font-size="54.00" font-weight="bold" textLength="402.57" lengthAdjust="spacing">Temperature (K)</text>
<g transform="translate(949,1190.5) rotate(-90)">
<text x="-0.71" y="0.00" font-size="47.50" font-weight="bold">LIR</text>
<text x="98.06" y="0.00" font-size="47.50" font-weight="bold">(</text>
<text x="116.67" y="0.00" font-size="47.50" font-weight="bold" font-style="italic">I</text>
<text x="132.04" y="14.00" font-size="33.20" font-weight="bold">ex345</text>
<text x="213.50" y="0.00" font-size="47.50">/</text>
<text x="222.97" y="0.00" font-size="47.50" font-weight="bold" font-style="italic">I</text>
<text x="246.84" y="14.00" font-size="33.20" font-weight="bold">ex308</text>
<text x="338.40" y="0.00" font-size="47.50">×</text>
<text x="366.32" y="0.00" font-size="48.50" font-weight="bold">10</text>
<text x="414.15" y="-20.00" font-size="33.00" font-weight="bold">-2</text>
<text x="439.97" y="0.00" font-size="47.50">)</text>
</g>
</svg>
</body></html>
